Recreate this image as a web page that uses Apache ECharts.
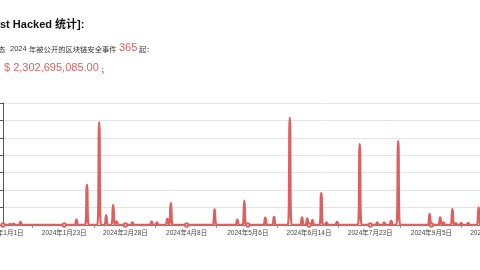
<!DOCTYPE html>
<html>
<head>
<meta charset="utf-8">
<script src="https://cdn.jsdelivr.net/npm/echarts@6/dist/echarts.min.js"></script>
<style>
  html, body { margin: 0; padding: 0; overflow: hidden; background: #fff; }
  #chart { width: 660px; height: 270px; }
</style>
</head>
<body>
<div id="chart"></div>
<script>
// incident days per month (one entry per disclosed incident, repeated day = two incidents)
const janDays = [1,1,2,2,3,4,4,5,6,6,7,8,8,9,10,10,11,12,12,13,14,14,15,16,16,17,18,18,19,20,20,21,21,22,22,23,24,25,26,27,28,29,30,31];
const febDays = [1,2,3,4,5,6,7,8,9,11,12,13,14,15,16,17,18,19,20,21,22,23,24,25,26,27,28,29];
const marDays = [1,2,3,4,6,7,8,9,10,11,13,14,15,16,17,18,20,21,22,23,24,25,27,28,29,30,31];
const aprDays = [1,2,4,5,6,7,8,9,9,10,11,12,12,13,14,15,16,16,17,18,19,19,20,21,22,23,23,24,25,26,26,27,28,29,30,30];
const mayDays = [1,2,3,4,5,6,7,8,9,10,11,13,14,15,16,17,18,20,21,22,23,24,25,27,28,29,30,31];
const junDays = [1,2,3,4,5,6,7,8,10,11,12,13,14,15,17,18,19,20,21,22,24,25,26,27,28,29,30];
const julDays = [1,2,3,4,5,6,8,9,10,11,12,13,15,16,17,18,19,20,21,22,23,24,25,26,27,29,30,31];
const augDays = [1,2,3,5,6,7,8,9,12,13,14,15,16,19,20,21,22,23,26,27,28,29,30,31];
const sepDays = [2,3,4,5,6,7,8,9,10,10,11,12,13,14,15,16,17,18,19,20,21,22,23,24,25,26,27,28,29,30];
const octDays = [1,2,3,4,5,6,7,8,9,10,11,12,13,14,15,16,17,18,19,20,21,22,23,24,25,26,27,28,29,30,31];
const novDays = [1,2,3,4,5,6,7,8,9,10,11,12,13,14,14,15,16,17,18,19,20,21,22,23,24,25,26,27,28,29,30];
const decDays = [1,2,3,4,5,6,7,8,9,10,11,12,13,14,15,16,17,18,19,20,21,22,23,24,25,26,27,28,29,30,31];

// loss per incident (millions of USD), one row = 35 incidents
const losses = [
  0,0,0,0,0.6,0,0.8,0,0,0,1.7,0,0,0,0,0,0,0,0,0,0,0,0,0,0,0,0,0,0,0,0,0,0,0,0,
  0,0,0,0,0,0,0,3,0,0,0,0,0,23,0,0,0,0,0,0,59,0,0,0,5.5,0,0,0,11.5,0,2,0,0,0,0,
  0,0,0,0,1.5,0,0,0,0,0,0,0,0,0,0,2,0,0,1.5,0,0,0,0,0,3.5,0,12.6,0,0,0,0,0,0,0,0,
  0,0,0,0,0,0,0,0,0,0,0,0,0,0,0,0,9,0,0,0,0,0,0,0,0,0,0,0,0,3,0,0,0,14,0,
  0,0,0,0,0,0,0,0,0,0,4.2,0,0,0,0,4.6,0,0,0,0,0,0,0,0,61.6,0,0,0,0,0,0,4.4,0,0,3.8,
  0,0,2.9,0,0,0,0,18.2,0,0,1.5,0,0,0,0,0,1.7,0,0,0,0,0,0,0,0,0,0,0,0,46.5,0,0,0,0,0,
  0,0,0,0,1.5,0,0,0,1.5,0,0,0,2.5,0,0,0,48.2,0,0,0,0,0,0,0,0,0,0,0,0,0,0,0,0,0,6.3,
  0,0,0,0,0,4.4,0,1.5,0,0,0,0,9.2,0,1,0,0,1.2,0,0,0,1.2,0,0,0,0,0,10,0,0,0,0,0,0,0,
  0,0,0,0,0,0,0,0,0,0,0,0,0,0,0,0,0,0,0,0,0,0,0,0,0,0,0,0,0,0,0,0,0,0,0,
  0,0,0,0,0,0,0,0,0,0,0,0,0,0,0,0,0,0,0,0,0,0,0,0,0,0,0,0,0,0,0,0,0,0,0,
  0,0,0,0,0,0,0,0,0,0,0,0,0,0,0
];

const yMax = 70;
const yStep = 10;
const labelEvery = 35;

const months = [janDays, febDays, marDays, aprDays, mayDays, junDays,
                julDays, augDays, sepDays, octDays, novDays, decDays];
const categories = [];
months.forEach((days, m) => {
  days.forEach(d => categories.push('2024年' + (m + 1) + '月' + d + '日'));
});

const red = '#dd6060';
const cjk = '"Noto Sans CJK SC", "Liberation Sans", sans-serif';
const latin = '"Liberation Sans", "Noto Sans CJK SC", sans-serif';

const chart = echarts.init(document.getElementById('chart'), null, { renderer: 'canvas' });

chart.setOption({
  animation: false,
  grid: {
    left: 3, top: 103, height: 122, width: 636.5,
    containLabel: false,
    outerBoundsMode: 'none'
  },
  graphic: [
    { type: 'text', x: 0, y: 25, style: { text: 'st Hacked 统计]:', fontSize: 11, fontWeight: 'bold', fontFamily: latin, fill: '#111', verticalAlign: 'middle' } },
    { type: 'text', x: -2, y: 49, style: { text: '态', fontSize: 7.3, fontFamily: cjk, fill: '#333', verticalAlign: 'middle' } },
    { type: 'text', x: 10, y: 49, style: { text: '2024', fontSize: 7.5, fontFamily: latin, fill: '#333', verticalAlign: 'middle' } },
    { type: 'text', x: 29, y: 49, style: { text: '年被公开的区块链安全事件', fontSize: 7.3, fontFamily: cjk, fill: '#333', verticalAlign: 'middle' } },
    { type: 'text', x: 119, y: 48, style: { text: '365', fontSize: 11, fontFamily: latin, fill: red, verticalAlign: 'middle' } },
    { type: 'text', x: 139, y: 49, style: { text: '起：', fontSize: 7.3, fontFamily: cjk, fill: '#333', verticalAlign: 'middle' } },
    { type: 'text', x: 4, y: 68, style: { text: '$ 2,302,695,085.00', fontSize: 11, fontFamily: latin, fill: red, verticalAlign: 'middle' } },
    { type: 'text', x: 101, y: 69, style: { text: '；', fontSize: 7.3, fontFamily: cjk, fill: '#333', verticalAlign: 'middle' } }
  ],
  xAxis: {
    type: 'category',
    data: categories,
    boundaryGap: false,
    axisLine: { lineStyle: { color: '#777' } },
    axisTick: {
      length: 3,
      interval: (i) => i % labelEvery === 17,
      lineStyle: { color: '#999' }
    },
    axisLabel: {
      interval: labelEvery - 1,
      fontSize: 6.5,
      margin: 5,
      color: '#444',
      fontFamily: latin
    },
    splitLine: { show: false }
  },
  yAxis: {
    type: 'value',
    min: 0,
    max: yMax,
    interval: yStep,
    axisLine: { show: true, lineStyle: { color: '#555' } },
    axisTick: { show: true, length: 3, lineStyle: { color: '#555' } },
    axisLabel: { show: false },
    splitLine: { lineStyle: { color: '#e4e4e4' } }
  },
  series: [{
    type: 'line',
    data: losses,
    smooth: true,
    symbol: 'emptyCircle',
    symbolSize: 3.5,
    lineStyle: { color: red, width: 2.4 },
    itemStyle: { color: red }
  }]
});
</script>
</body>
</html>
